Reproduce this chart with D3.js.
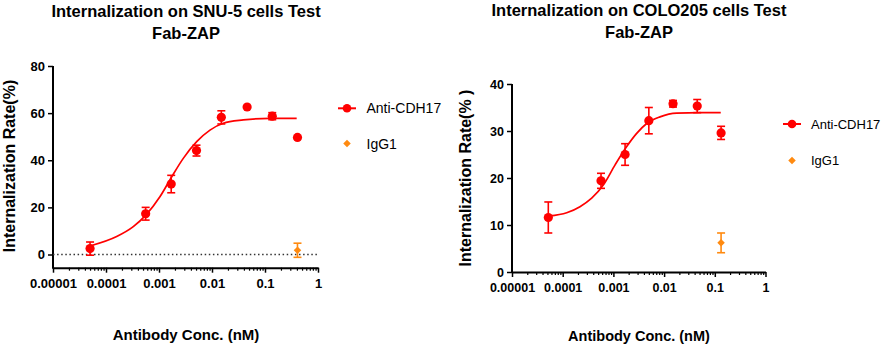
<!DOCTYPE html>
<html>
<head>
<meta charset="utf-8">
<script src="https://cdn.jsdelivr.net/npm/d3@7"></script>
<style>
  body { margin: 0; background: #fff; }
  text { font-family: "Liberation Sans", Arial, sans-serif; }
</style>
</head>
<body>
<div id="chart"></div>
<script>
// Datos comunes

const seriesNames = ["Anti-CDH17", "IgG1"]
const xTickValues = [0.00001, 0.0001, 0.001, 0.01, 0.1, 1]
const xTickLabels = ["0.00001", "0.0001", "0.001", "0.01", "0.1", "1"]
const xTitle = "Antibody Conc. (nM)"

// SNU-5
const snuTitle = ["Internalization on SNU-5 cells Test", "Fab-ZAP"]
const snuYTitle = "Internalization Rate(%)"
const snuYTicks = [0, 20, 40, 60, 80]
const snuConc = [0.00005, 0.00056, 0.0017, 0.0051, 0.015, 0.046, 0.137, 0.41]
const snuMean = [2.5, 17.3, 29.9, 44.1, 58.2, 62.6, 58.7, 49.7]
const snuErr  = [2.8, 2.7, 3.7, 2.3, 2.8, 0, 1.5, 0]
const snuIggConc = [0.41]
const snuIggMean = [1.8]
const snuIggErr  = [3.0]
const snuFitConc  = [0.0000515, 0.000159, 0.000327, 0.000569, 0.00104, 0.00174, 0.00287, 0.00514, 0.00916, 0.0163, 0.039, 0.124, 0.396]
const snuFitValue = [3.7, 7.6, 11.8, 16.8, 24.5, 33.0, 40.8, 47.9, 52.8, 55.7, 57.1, 57.8, 57.8]

// COLO205
const coloTitle = ["Internalization on COLO205 cells Test", "Fab-ZAP"]
const coloYTitle = "Internalization Rate(% )"
const coloYTicks = [0, 10, 20, 30, 40]
const coloConc = [0.000052, 0.00057, 0.0017, 0.005, 0.015, 0.045, 0.133]
const coloMean = [11.6, 19.4, 25.0, 32.2, 35.8, 35.3, 29.6]
const coloErr  = [3.3, 1.6, 2.3, 2.8, 0.7, 1.4, 1.4]
const coloIggConc = [0.133]
const coloIggMean = [6.2]
const coloIggErr  = [2.1]
const coloFitConc  = [0.0000537, 0.00012, 0.000219, 0.000373, 0.000632, 0.00108, 0.00183, 0.00288, 0.00454, 0.0083, 0.0177, 0.051, 0.131]
const coloFitValue = [11.9, 12.6, 13.9, 15.7, 18.5, 22.8, 26.7, 29.5, 31.6, 33.0, 33.8, 33.9, 33.9]

// Colores
const red = "#ff0000"
const orange = "#ff8a10"

// svg

const width = 886
const height = 347
const svg = d3.select("#chart").append("svg").attr("width", width).attr("height", height)

const panels = [
  {
    title: snuTitle, yTitle: snuYTitle, yTicks: snuYTicks, yMax: 80,
    conc: snuConc, mean: snuMean, err: snuErr,
    iggConc: snuIggConc, iggMean: snuIggMean, iggErr: snuIggErr,
    fitConc: snuFitConc, fitValue: snuFitValue,
    left: 53, right: 318, top: 66, yZero: 254.5, xAxisY: 267.7, zeroLine: true,
    titleX: 186, titleY: [16.7, 39], titleSize: 16.5,
    yTitleX: 14.5, yTitleY: 166, yTitleSize: 16,
    xTitleX: 186, xTitleY: 340, xTitleSize: 15,
    tickSize: 13,
    legendX: 338, legendY: [108.3, 143.5], legendTextX: 366.5, legendSize: 14
  },
  {
    title: coloTitle, yTitle: coloYTitle, yTicks: coloYTicks, yMax: 40,
    conc: coloConc, mean: coloMean, err: coloErr,
    iggConc: coloIggConc, iggMean: coloIggMean, iggErr: coloIggErr,
    fitConc: coloFitConc, fitValue: coloFitValue,
    left: 512, right: 765.5, top: 84, yZero: 272, xAxisY: 272, zeroLine: false,
    titleX: 639, titleY: [16, 38.3], titleSize: 16.5,
    yTitleX: 470.5, yTitleY: 178, yTitleSize: 16,
    xTitleX: 639, xTitleY: 340.7, xTitleSize: 14.5,
    tickSize: 12.5,
    legendX: 783, legendY: [124, 160.5], legendTextX: 811, legendSize: 13
  }
]

function drawPanel(p) {
  const g = svg.append("g")

  // escalas
  const x = d3.scaleLog().domain([0.00001, 1]).range([p.left, p.right])
  const y = d3.scaleLinear().domain([0, p.yMax]).range([p.yZero, p.top])

  // titulo
  p.title.forEach((t, i) => {
    g.append("text")
      .attr("x", p.titleX).attr("y", p.titleY[i])
      .attr("text-anchor", "middle")
      .attr("font-size", p.titleSize).attr("font-weight", "bold")
      .text(t)
  })

  // eje y
  const yAxis = d3.axisLeft(y).tickValues(p.yTicks).tickSize(5).tickPadding(3)
  const yAxisGroup = g.append("g").attr("transform", `translate(${p.left},0)`).call(yAxis)
  yAxisGroup.select(".domain").remove()
  yAxisGroup.attr("font-size", p.tickSize).attr("font-weight", "bold")
  yAxisGroup.selectAll("line").attr("stroke-width", 1.5)
  yAxisGroup.selectAll("text").attr("fill", "#000")
  g.append("line")
    .attr("x1", p.left).attr("x2", p.left)
    .attr("y1", p.top).attr("y2", p.xAxisY + 1)
    .attr("stroke", "#000").attr("stroke-width", 2)

  // eje x (ticks menores y mayores)
  const minor = x.ticks().filter(d => !xTickValues.includes(d))
  const xMinorGroup = g.append("g").attr("transform", `translate(0,${p.xAxisY})`)
    .call(d3.axisBottom(x).tickValues(minor).tickSize(3).tickFormat(""))
  xMinorGroup.select(".domain").remove()
  xMinorGroup.selectAll("line").attr("stroke-width", 1.2)

  const xAxis = d3.axisBottom(x).tickValues(xTickValues)
    .tickFormat((d, i) => xTickLabels[i]).tickSize(5).tickSizeOuter(0).tickPadding(6)
  const xAxisGroup = g.append("g").attr("transform", `translate(0,${p.xAxisY})`).call(xAxis)
  xAxisGroup.attr("font-size", p.tickSize).attr("font-weight", "bold")
  xAxisGroup.select(".domain").attr("stroke-width", 2)
  xAxisGroup.selectAll("line").attr("stroke-width", 1.5)
  xAxisGroup.selectAll("text").attr("fill", "#000")

  // titulos de ejes
  g.append("text")
    .attr("transform", `translate(${p.yTitleX},${p.yTitleY}) rotate(-90)`)
    .attr("text-anchor", "middle")
    .attr("font-size", p.yTitleSize).attr("font-weight", "bold")
    .text(p.yTitle)
  g.append("text")
    .attr("x", p.xTitleX).attr("y", p.xTitleY)
    .attr("text-anchor", "middle")
    .attr("font-size", p.xTitleSize).attr("font-weight", "bold")
    .text(xTitle)

  // linea punteada en y = 0
  if (p.zeroLine) {
    g.append("line")
      .attr("x1", p.left).attr("x2", p.right)
      .attr("y1", y(0)).attr("y2", y(0))
      .attr("stroke", "#333").attr("stroke-width", 1.3)
      .attr("stroke-dasharray", "1.5,2.6")
  }

  // curva ajustada
  const fit = p.fitConc.map((c, i) => ({ c: c, v: p.fitValue[i] }))
  g.append("path").datum(fit)
    .attr("fill", "none").attr("stroke", red).attr("stroke-width", 1.7)
    .attr("d", d3.line().x(d => x(d.c)).y(d => y(d.v)).curve(d3.curveMonotoneX))

  // barras de error y puntos
  const pts = p.conc.map((c, i) => ({ c: c, v: p.mean[i], e: p.err[i] }))
  const igg = p.iggConc.map((c, i) => ({ c: c, v: p.iggMean[i], e: p.iggErr[i] }))

  function errorBars(data, color) {
    const eb = g.append("g").attr("stroke", color).attr("stroke-width", 1.6)
    data.filter(d => d.e > 0).forEach(d => {
      eb.append("line").attr("x1", x(d.c)).attr("x2", x(d.c)).attr("y1", y(d.v - d.e)).attr("y2", y(d.v + d.e))
      eb.append("line").attr("x1", x(d.c) - 4).attr("x2", x(d.c) + 4).attr("y1", y(d.v - d.e)).attr("y2", y(d.v - d.e))
      eb.append("line").attr("x1", x(d.c) - 4).attr("x2", x(d.c) + 4).attr("y1", y(d.v + d.e)).attr("y2", y(d.v + d.e))
    })
  }
  errorBars(pts, red)
  errorBars(igg, orange)

  g.selectAll(".pt").data(pts).join("circle")
    .attr("class", "pt")
    .attr("cx", d => x(d.c)).attr("cy", d => y(d.v)).attr("r", 4.6)
    .attr("fill", red)

  const diamond = d3.symbol().type(d3.symbolDiamond2).size(36)
  g.selectAll(".igg").data(igg).join("path")
    .attr("class", "igg")
    .attr("transform", d => `translate(${x(d.c)},${y(d.v)})`)
    .attr("d", diamond)
    .attr("fill", orange)

  // leyenda
  const lg = g.append("g")
  lg.append("line")
    .attr("x1", p.legendX).attr("x2", p.legendX + 18)
    .attr("y1", p.legendY[0]).attr("y2", p.legendY[0])
    .attr("stroke", red).attr("stroke-width", 2)
  lg.append("circle").attr("cx", p.legendX + 9).attr("cy", p.legendY[0]).attr("r", 4.3).attr("fill", red)
  lg.append("path")
    .attr("transform", `translate(${p.legendX + 9},${p.legendY[1]})`)
    .attr("d", diamond).attr("fill", orange)
  seriesNames.forEach((name, i) => {
    lg.append("text")
      .attr("x", p.legendTextX).attr("y", p.legendY[i])
      .attr("dy", "0.36em")
      .attr("font-size", p.legendSize)
      .text(name)
  })
}

panels.forEach(drawPanel)
</script>
</body>
</html>
